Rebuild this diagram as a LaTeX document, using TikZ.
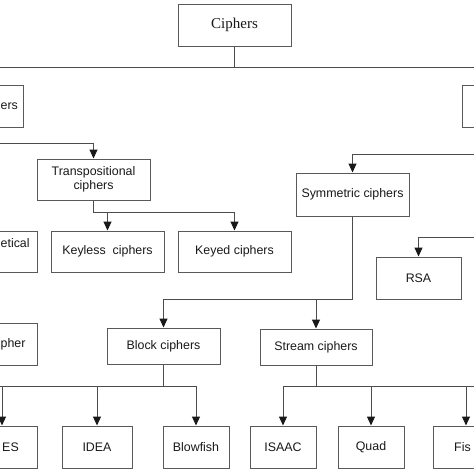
\documentclass[tikz,border=0pt]{standalone}
\usepackage{fontspec}
\setmainfont{Liberation Sans}
\newfontfamily\serifttl{Liberation Serif}
\usetikzlibrary{arrows.meta}
\tikzset{
  box/.style={draw=black!65, line width=1pt, fill=white, rectangle, inner sep=0pt,
    font=\fontsize{12.4}{14.5}\selectfont, text=black!90, align=center},
  txt/.style={inner sep=0pt, font=\fontsize{12.4}{14.5}\selectfont, text=black!90},
  conn/.style={draw=black!70, line width=1pt, -{Triangle[width=8pt,length=9pt,color=black!90,fill=black!90]}},
  plain/.style={draw=black!70, line width=1pt},
}
\begin{document}
\begin{tikzpicture}[x=1pt,y=-1pt]
\useasboundingbox (0,0) rectangle (474,474);
\clip (0,0) rectangle (474,474);
\fill[white] (0,0) rectangle (474,474);
% junction levels
\coordinate (j1) at (0,67);
\coordinate (j2) at (0,143);
\coordinate (j3) at (0,212);
\coordinate (j4) at (0,154);
\coordinate (j5) at (0,299);
\coordinate (j6) at (0,386);
\coordinate (rsafrom) at (480,237);
\coordinate (jr) at (480,386);
\coordinate (jl) at (-10,386);
% nodes
\node[box, minimum width=113, minimum height=42, font=\serifttl\fontsize{15}{18}\selectfont] (ciph) at (234.5,25) {Ciphers};
\node[box, minimum width=113, minimum height=42] (subst) at (-33.5,106) {};
\node[txt, anchor=west] (substt) at (0.5,106) {ers};
\node[box, minimum width=113, minimum height=42] (asym) at (518.5,106) {};
\node[box, minimum width=113, minimum height=41] (trans) at (93.5,179.5) {Transpositional\\ciphers};
\node[box, minimum width=113, minimum height=41] (alpha) at (-19.5,251.5) {};
\node[txt, anchor=west] (alphat) at (0.5,243) {etical};
\node[box, minimum width=113, minimum height=41] (keyless) at (107.5,251.5) {Keyless~ ciphers};
\node[box, minimum width=113, minimum height=41] (keyed) at (234.5,251.5) {Keyed ciphers};
\node[box, minimum width=113, minimum height=43] (symm) at (352.5,194.5) {Symmetric ciphers};
\node[box, minimum width=85, minimum height=42] (rsa) at (418.5,278) {RSA};
\node[box, minimum width=113, minimum height=42] (caesar) at (-19.5,344) {};
\node[txt, anchor=west] (caesart) at (0.5,344) {pher};
\node[box, minimum width=113, minimum height=36] (block) at (163.5,346) {Block ciphers};
\node[box, minimum width=112, minimum height=36] (stream) at (316,347) {Stream ciphers};
\node[box, minimum width=70, minimum height=42] (des) at (2,447) {};
\node[txt] (dest) at (10.5,447) {ES};
\node[box, minimum width=70, minimum height=42] (idea) at (97,447) {IDEA};
\node[box, minimum width=66, minimum height=42] (blowfish) at (196,447) {Blowfish};
\node[box, minimum width=66, minimum height=42] (isaac) at (283,447) {ISAAC};
\node[box, minimum width=66, minimum height=42] (quad) at (371,447) {Quad};
\node[box, minimum width=66, minimum height=42] (fish) at (466,447) {};
\node[txt, anchor=west] (fisht) at (454,447) {Fis};
% connectors
\draw[conn] (ciph.south) -- (ciph.south |- j1) -| (subst.north);
\draw[conn] (ciph.south |- j1) -| (asym.north);
\draw[conn] (subst.south) -- (subst.south |- j2) -| (trans.north);
\draw[conn] (trans.south) -- (trans.south |- j3) -| (keyed.north);
\draw[conn] (keyless.north |- j3) -- (keyless.north);
\draw[conn] (asym.south) -- (asym.south |- j4) -| (symm.north);
\draw[conn] (rsafrom) -| (rsa.north);
\draw[conn] (symm.south) -- (symm.south |- j5) -| (block.north);
\draw[conn] (stream.north |- j5) -- (stream.north);
\draw[conn] (block.south) -- (block.south |- j6) -| (des.north);
\draw[conn] (block.south |- j6) -| (blowfish.north);
\draw[conn] (idea.north |- j6) -- (idea.north);
\draw[plain] (des.north |- j6) -- (jl);
\draw[conn] (stream.south) -- (stream.south |- j6) -| (isaac.north);
\draw[conn] (stream.south |- j6) -| (fish.north);
\draw[conn] (quad.north |- j6) -- (quad.north);
\draw[plain] (fish.north |- j6) -- (jr);
\end{tikzpicture}
\end{document}
